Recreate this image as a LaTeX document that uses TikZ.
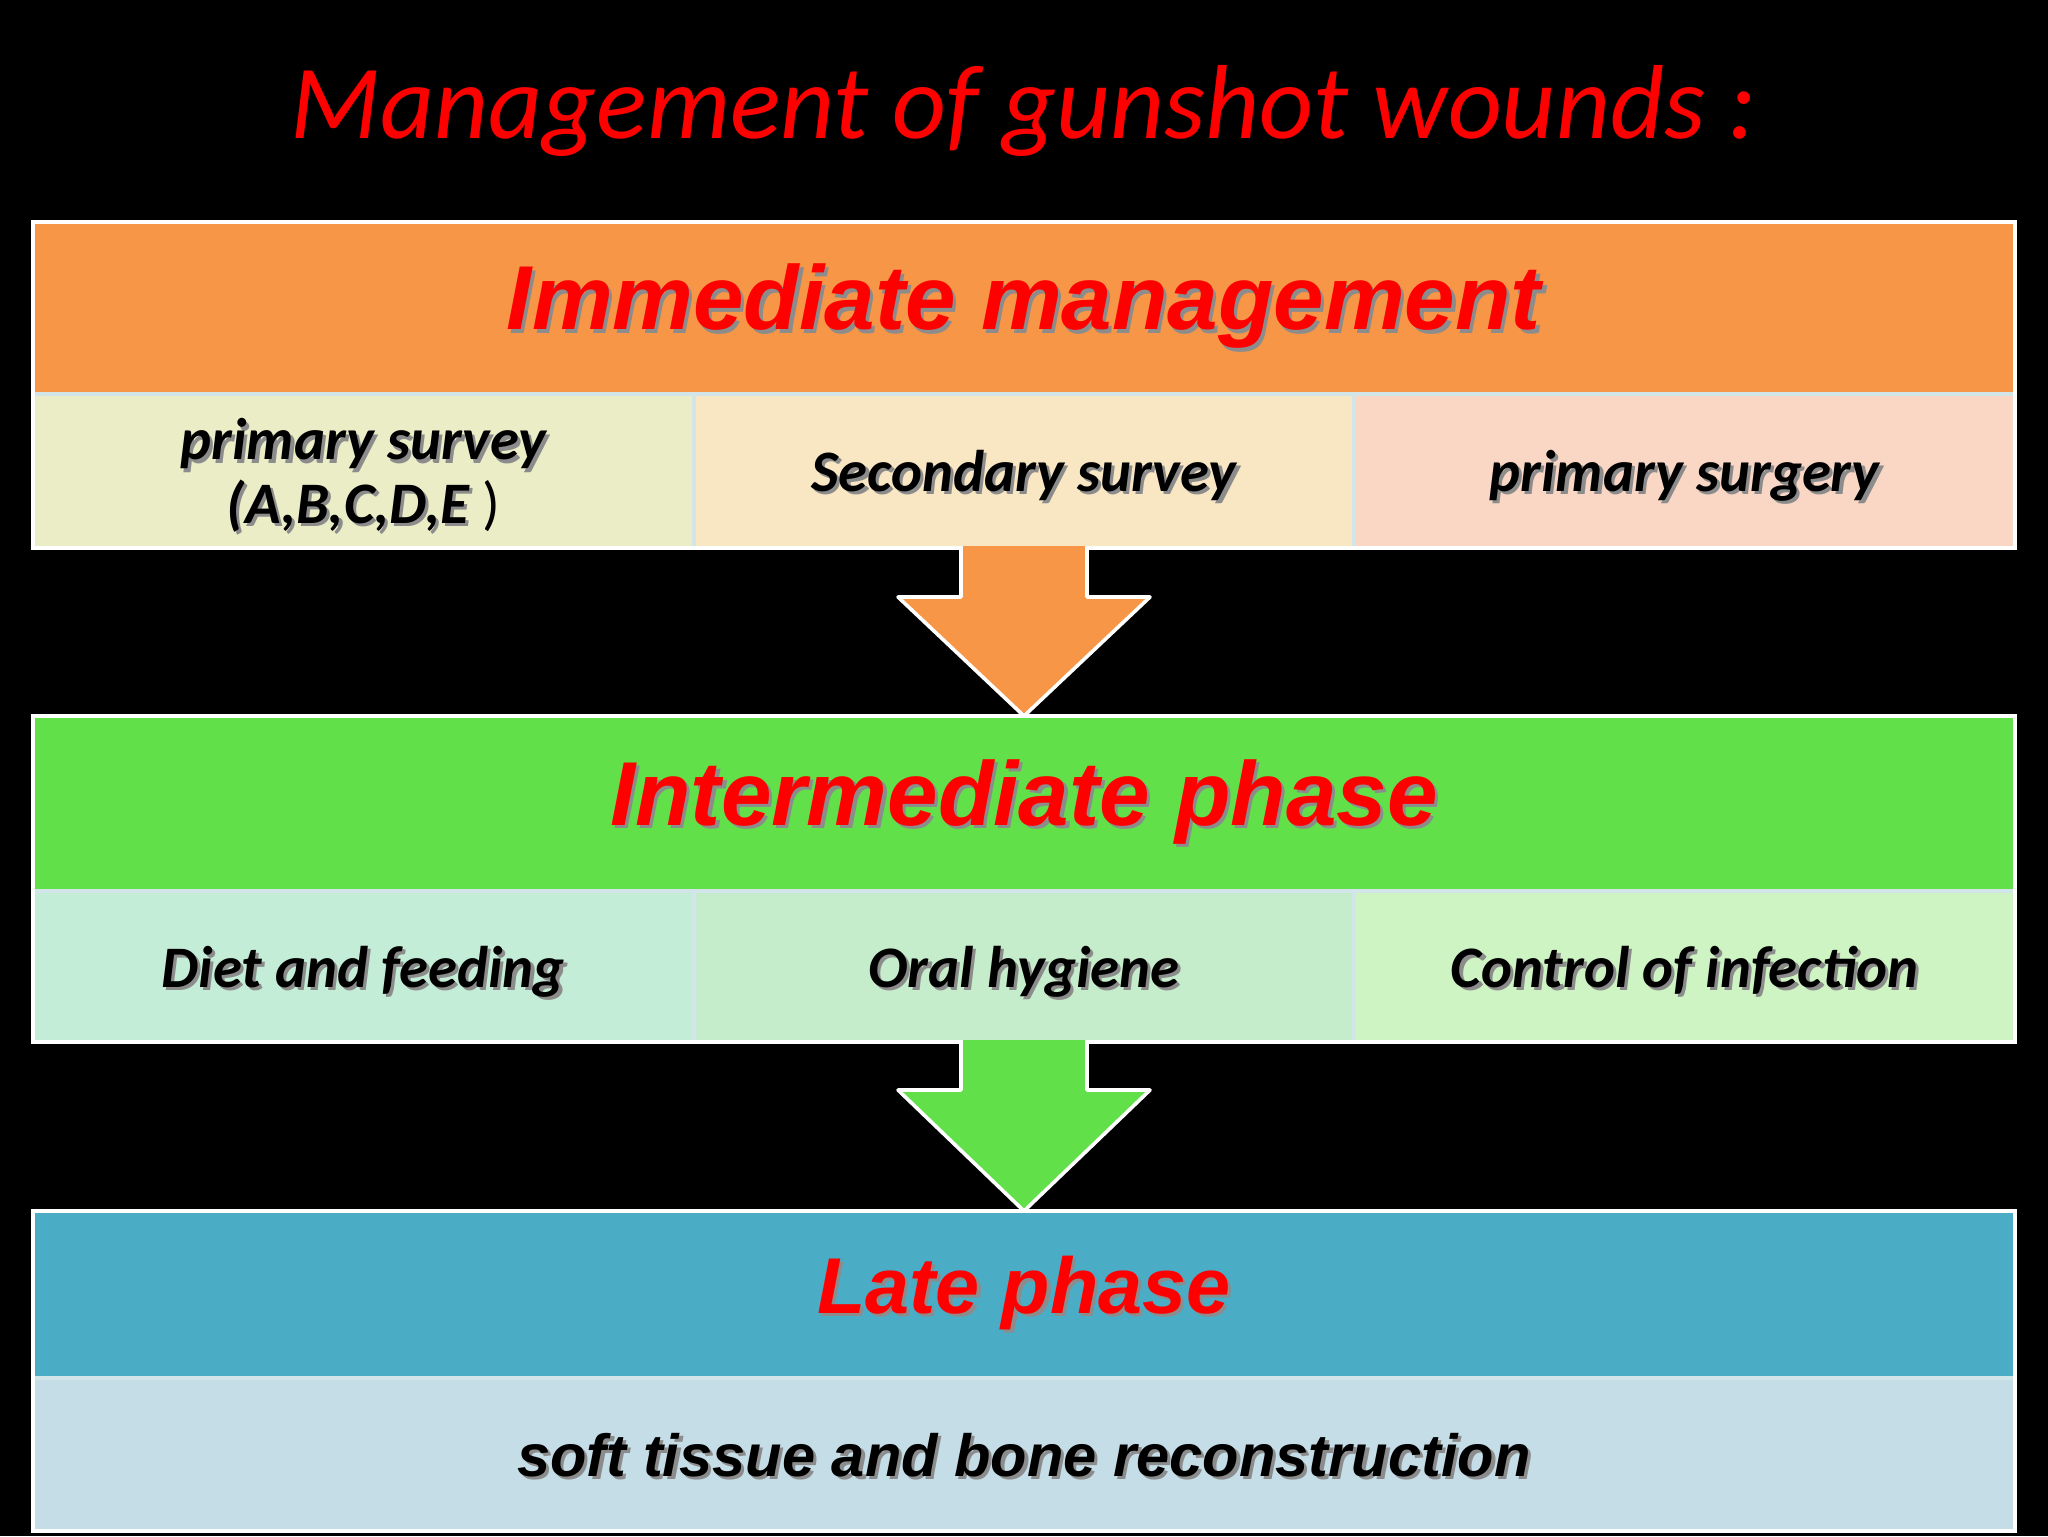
\documentclass[tikz,border=0pt]{standalone}
\usepackage{fontspec}
\setmainfont{Carlito}
\newfontfamily\arialfont{Liberation Sans}
\usetikzlibrary{positioning,calc}
\definecolor{immorange}{HTML}{F79646}
\definecolor{intgreen}{HTML}{62E04A}
\definecolor{lateblue}{HTML}{4BACC6}
\definecolor{cellline}{HTML}{D2E5E8}
\definecolor{primcol}{HTML}{EAEDC6}
\definecolor{seccol}{HTML}{F9E6C3}
\definecolor{surgcol}{HTML}{FAD6C4}
\definecolor{dietcol}{HTML}{C4EDD8}
\definecolor{oralcol}{HTML}{C6EDCB}
\definecolor{infcol}{HTML}{CEF4C3}
\definecolor{recocol}{HTML}{C4DDE7}
\newcommand\shadowed[2][black!45]{\makebox[0pt][l]{\hspace{0.8pt}\raisebox{-0.8pt}{\textcolor{#1}{#2}}}#2}
\tikzset{
  phasehead/.style={draw=none, minimum width=495.5pt, minimum height=43pt, inner sep=0pt, outer sep=0pt, anchor=north west, text=red, font=\arialfont\bfseries\itshape\fontsize{22.7}{27}\selectfont},
  phasecell/.style={draw=cellline, line width=1pt, minimum width=165.17pt, minimum height=38.5pt, inner sep=0pt, outer sep=0pt, align=center, text depth=0pt, font=\bfseries\itshape\fontsize{14.7}{15.9}\selectfont},
  phaseframe/.style={draw=white, line width=0.8pt},
  phasearrow/.style={draw=white, line width=0.9pt, line join=round}
}
\begin{document}
\begin{tikzpicture}[x=0.25pt, y=-0.25pt, node distance=0pt]
\fill[black] (0,0) rectangle (2048,1536);
\useasboundingbox (0,0) rectangle (2048,1536);
\node[text=red, font=\itshape\fontsize{26.3}{30}\selectfont] (title) at (1024,111) {Management of gunshot wounds :};

\node[phasehead, fill=immorange] (immhead) at (33,222) {\shadowed{Immediate management}};
\node[phasecell, fill=primcol, anchor=north west] (primsurvey) at (immhead.south west) {\shadowed{primary survey}\\\shadowed{(A,B,C,D,E}\ {\upshape\mdseries )}};
\node[phasecell, fill=seccol, right=of primsurvey] (secsurvey) {\shadowed{Secondary survey}};
\node[phasecell, fill=surgcol, right=of secsurvey] (primsurgery) {\shadowed{primary surgery}};
\draw[phaseframe] (immhead.north west) rectangle (primsurgery.south east);

\node[phasehead, fill=intgreen, minimum height=43.75pt] (inthead) at (33,716) {\shadowed{Intermediate phase}};
\node[phasecell, fill=dietcol, minimum height=37.75pt, anchor=north west] (diet) at (inthead.south west) {\shadowed{Diet and feeding}};
\node[phasecell, fill=oralcol, minimum height=37.75pt, right=of diet] (oral) {\shadowed{Oral hygiene}};
\node[phasecell, fill=infcol, minimum height=37.75pt, right=of oral] (infection) {\shadowed{Control of infection}};
\draw[phaseframe] (inthead.north west) rectangle (infection.south east);

\node[phasehead, fill=lateblue, minimum height=41.75pt, font=\arialfont\bfseries\itshape\fontsize{19.8}{24}\selectfont] (latehead) at (33,1211) {\shadowed{Late phase}};
\node[phasecell, fill=recocol, minimum width=495.5pt, minimum height=38.25pt, anchor=north west, font=\arialfont\bfseries\itshape\fontsize{14.9}{18}\selectfont] (reconstruction) at (latehead.south west) {\shadowed{soft tissue and bone reconstruction}};
\draw[phaseframe] (latehead.north west) rectangle (reconstruction.south east);

\draw[phasearrow, fill=immorange] ($(secsurvey.south)+(-63,-2)$) -- ++(0,51) -- ++(-63,0) -- (inthead.north)
  -- ($(secsurvey.south)+(126,49)$) -- ++(-63,0) -- ($(secsurvey.south)+(63,-2)$);
\draw[phasearrow, fill=intgreen] ($(oral.south)+(-63,-2)$) -- ++(0,50) -- ++(-63,0) -- (latehead.north)
  -- ($(oral.south)+(126,48)$) -- ++(-63,0) -- ($(oral.south)+(63,-2)$);
\end{tikzpicture}
\end{document}
